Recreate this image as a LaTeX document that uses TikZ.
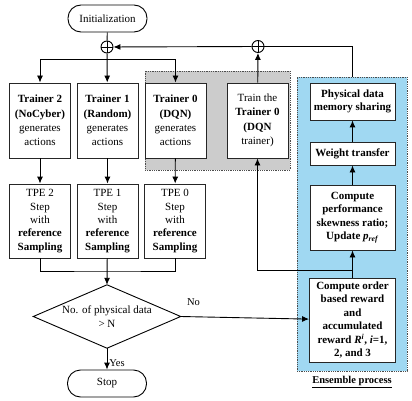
\documentclass[tikz,border=0pt]{standalone}
\usepackage{fontspec}
\setmainfont{Liberation Serif}
\usetikzlibrary{arrows.meta}
\definecolor{grayreg}{RGB}{204,204,204}
\definecolor{bluereg}{RGB}{160,216,242}
\tikzset{
  base/.style={font=\fontsize{11}{13.4}\selectfont, align=center, inner sep=1pt},
  box/.style={base, draw=black!85, line width=0.9pt, fill=white, minimum width=61pt},
  term/.style={base, draw=black, line width=0.9pt, fill=white, rounded corners=13pt, minimum width=79pt, minimum height=27pt},
  region/.style={draw=black!70, densely dotted, line width=0.8pt, inner sep=0pt},
  oplus/.style={circle, draw, line width=0.9pt, minimum size=12pt, inner sep=0pt,
    path picture={\draw[line width=0.9pt] (path picture bounding box.north) -- (path picture bounding box.south)
      (path picture bounding box.west) -- (path picture bounding box.east);}},
  arr/.style={line width=0.9pt, -{Latex[length=7pt,width=6pt]}},
  ln/.style={line width=0.9pt},
  lbl/.style={base, font=\fontsize{10.5}{12}\selectfont},
}
\begin{document}
\begin{tikzpicture}[x=1pt,y=-1pt]
\useasboundingbox (0,0) rectangle (412,401);
% regions
\node[region, fill=grayreg, minimum width=145pt, minimum height=99pt] (gray) at (217.5,120.5) {};
\node[region, fill=bluereg, minimum width=110pt, minimum height=294pt] (blue) at (352,224) {};
% terminals and junctions
\node[term] (init) at (107.5,18.5) {Initialization};
\node[oplus] (c1) at (107,47) {};
\node[oplus] (c2) at (258,46.5) {};
% trainers
\node[box, minimum height=75pt, font=\fontsize{11}{14.4}\selectfont] (t2) at (40,120.5) {\textbf{Trainer 2}\\\textbf{(NoCyber)}\\generates\\actions};
\node[box, minimum height=75pt, font=\fontsize{11}{14.4}\selectfont] (t1) at (107.5,120.5) {\textbf{Trainer 1}\\\textbf{(Random)}\\generates\\actions};
\node[box, minimum height=75pt, font=\fontsize{11}{14.4}\selectfont] (t0) at (175.5,120.5) {\textbf{Trainer 0}\\\textbf{(DQN)}\\generates\\actions};
\node[box, minimum height=75pt, font=\fontsize{11}{14.4}\selectfont] (train) at (257.5,120.5) {Train the\\\textbf{Trainer 0}\\\textbf{(DQN}\\trainer)};
% TPE
\node[box, minimum height=74pt] (p2) at (40,221) {TPE 2\\Step\\with\\\textbf{reference}\\\textbf{Sampling}};
\node[box, minimum height=74pt] (p1) at (107.5,221) {TPE 1\\Step\\with\\\textbf{reference}\\\textbf{Sampling}};
\node[box, minimum height=74pt] (p0) at (175,221) {TPE 0\\Step\\with\\\textbf{reference}\\\textbf{Sampling}};
% decision
\node[base, minimum width=147pt, minimum height=63pt, inner sep=0pt] (dec) at (107,316.5) {};
\draw[line width=0.9pt, fill=white] (dec.north) -- (dec.east) -- (dec.south) -- (dec.west) -- cycle;
\node[base] (dectext) at (dec.center) {No. of physical data\\> N};
\node[term] (stop) at (107,383.5) {Stop};
% ensemble boxes
\node[box, font=\bfseries\fontsize{11}{13.4}\selectfont, minimum width=85pt, minimum height=37pt] (phys) at (352.5,101.5) {Physical data\\memory sharing};
\node[box, font=\bfseries\fontsize{11}{13.4}\selectfont, minimum width=85pt, minimum height=23pt] (wt) at (352.5,153.5) {Weight transfer};
\node[box, font=\bfseries\fontsize{11}{13.4}\selectfont, minimum width=85pt, minimum height=65pt] (perf) at (352.5,217.5) {Compute\\performance\\skewness ratio;\\Update \textit{p}\textsubscript{\textit{ref}}};
\node[box, font=\bfseries\fontsize{11}{13.4}\selectfont, minimum width=86pt, minimum height=84pt] (ord) at (352.5,320) {Compute order\\based reward\\and\\accumulated\\reward \textit{R}\textsuperscript{\textit{i}}, \textit{i}=1,\\2, and 3};
\node[base, font=\bfseries\fontsize{10.5}{12}\selectfont] (ens) at (352,382) {\underline{Ensemble process}};
% connectors
\coordinate (br) at (107,59);
\draw[ln] (init) -- (c1);
\draw[arr] (c1) -- (t1);
\draw[arr] (br) -| (t2);
\draw[arr] (br) -| (t0);
\draw[arr] (c2) -- (c1);
\draw[arr] (train) -- (c2);
\draw[ln] (c2) -| (phys.north |- blue.north);
\draw[arr] (t2) -- (p2);
\draw[arr] (t1) -- (p1);
\draw[arr] (t0) -- (p0);
\coordinate (mg) at (107,271);
\draw[ln] (p2) |- (mg) -| (p0);
\draw[arr] (p1) -- (dec.north);
\draw[arr] (dec.south) -- node[lbl, right, pos=0.72, xshift=1pt] {Yes} (stop);
\draw[arr] (dec.east) -- node[lbl, above, pos=0.1, yshift=10pt] {No} (ord);
\coordinate (jn) at (352.5,270);
\draw[arr] (ord) -- (perf);
\draw[arr] (jn) -| (train);
\draw[arr] (perf) -- (wt);
\draw[arr] (wt) -- (phys);
\end{tikzpicture}
\end{document}
